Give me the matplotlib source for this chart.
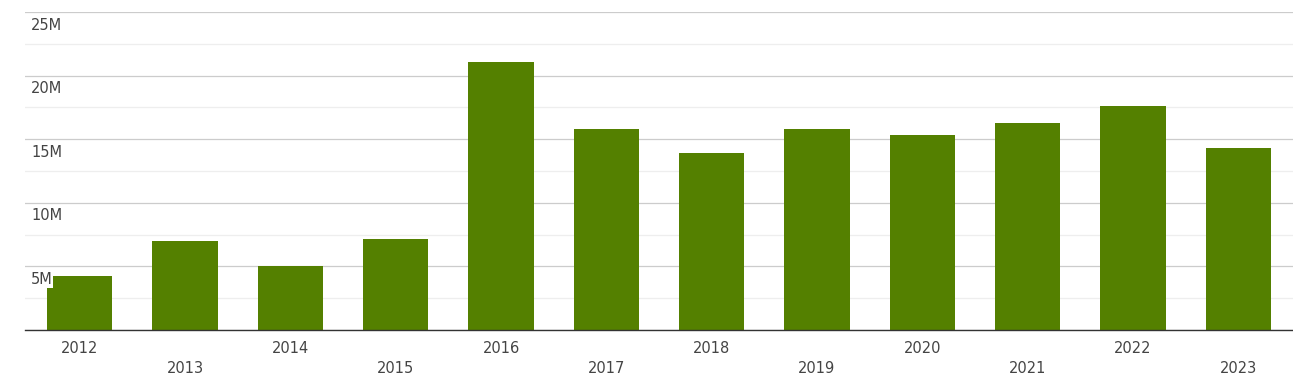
import matplotlib.pyplot as plt
from matplotlib.ticker import MultipleLocator

years = ["2012", "2013", "2014", "2015", "2016", "2017", "2018", "2019", "2020", "2021", "2022", "2023"]
values = [4.25, 7.0, 5.05, 7.15, 21.05, 15.8, 13.9, 15.8, 15.35, 16.25, 17.6, 14.3]  # millions
y_ticks = [5, 10, 15, 20, 25]

fig = plt.figure(figsize=(12.93, 3.84), dpi=100)
ax = fig.add_axes([25 / 1293, 1 - 330 / 384, 1268 / 1293, 318 / 384])

x = list(range(len(years)))
ax.bar(x, values, width=0.62, color="#548000", zorder=2)

ax.set_xlim(-0.52, 11.52)
ax.set_ylim(0, 25)
ax.yaxis.set_major_locator(MultipleLocator(5))
ax.yaxis.set_minor_locator(MultipleLocator(2.5))
ax.grid(axis="y", which="major", color="#cccccc", linewidth=0.9, zorder=0)
ax.grid(axis="y", which="minor", color="#eeeeee", linewidth=0.9, zorder=0)
ax.tick_params(axis="y", which="both", left=False, labelleft=False)

for s in ["top", "right", "left"]:
    ax.spines[s].set_visible(False)
ax.spines["bottom"].set_color("#333333")
ax.spines["bottom"].set_linewidth(1.0)
ax.spines["bottom"].set_zorder(3)

# staggered year labels (offsets in points, 1pt = 1.39px at 100 dpi)
ax.set_xticks(x)
ax.set_xticklabels([])
ax.tick_params(axis="x", length=0)
for i, yr in enumerate(years):
    off = -13 if i % 2 == 0 else -27.5
    ax.annotate(yr, xy=(i, 0), xytext=(0, off), textcoords="offset points",
                ha="center", va="center", fontsize=10.5, color="#444444",
                annotation_clip=False)

for t in y_ticks:
    ax.annotate(f"{t}M", xy=(0, t), xycoords=("axes fraction", "data"),
                xytext=(4.3, -9.5), textcoords="offset points",
                ha="left", va="center", fontsize=10.5, color="#444444", zorder=5,
                bbox=dict(boxstyle="square,pad=0.05", fc="white", ec="none"))

fig.savefig("out.png", dpi=100)
